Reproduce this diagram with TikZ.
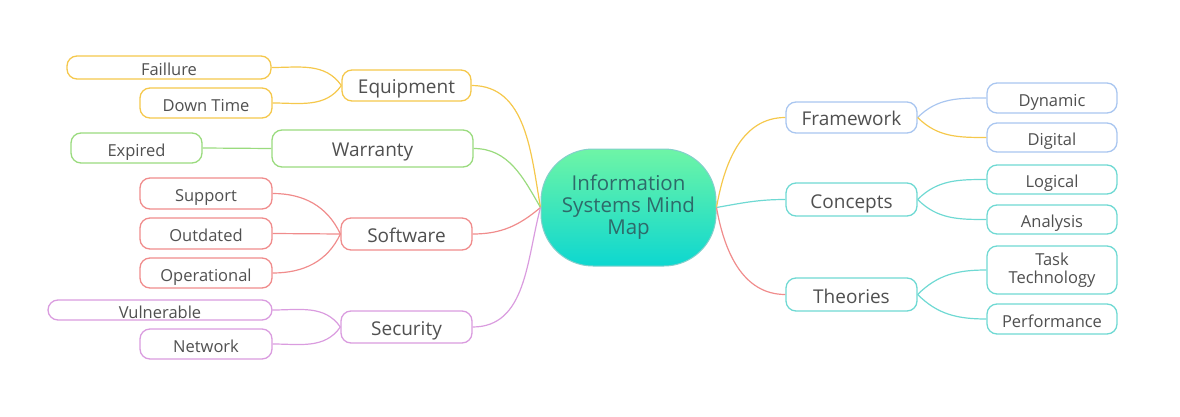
\documentclass[tikz,border=0pt]{standalone}
\usepackage{fontspec}
\setmainfont{Open Sans}
\definecolor{cyel}{HTML}{F5C84C}
\definecolor{cgrn}{HTML}{9ADB7E}
\definecolor{cred}{HTML}{F08C8C}
\definecolor{cpur}{HTML}{DA9CDF}
\definecolor{cblu}{HTML}{A9C6F0}
\definecolor{ctea}{HTML}{6FD9D3}
\definecolor{ctxt}{HTML}{505050}
\definecolor{gtop}{HTML}{6EF5A6}
\definecolor{gbot}{HTML}{0DD7D0}
\definecolor{ctr}{HTML}{2E6A6A}
\begin{document}
\begin{tikzpicture}[x=1pt,y=-1pt,
  box/.style={draw,line width=1.3pt,rounded corners=10pt,inner sep=0pt,fill=white,text=ctxt,align=center},
  mainbox/.style={box,font=\fontsize{19}{21}\selectfont,text height=17pt,text depth=0pt},
  leaf/.style={box,font=\fontsize{16.5}{18}\selectfont,text height=16.5pt,text depth=0pt},
  tleaf/.style={box,font=\fontsize{16.5}{18}\selectfont},
  ln/.style={line width=1.2pt}]
\useasboundingbox (0,0) rectangle (1180,417);
% center
\node[draw=ctea!90!black!80,line width=1pt,rounded corners=52pt,top color=gtop,bottom color=gbot,minimum width=175pt,minimum height=117pt,inner sep=0pt,text=ctr,align=center,font=\fontsize{20.5}{22}\selectfont] (c) at (628.5,207.5) {Information\\Systems Mind\\Map};
% left main
\node[mainbox,draw=cyel,minimum width=129pt,minimum height=31pt] (equip) at (406.5,85.5) {Equipment};
\node[mainbox,draw=cgrn,minimum width=201pt,minimum height=37pt] (warr) at (372.5,148.5) {Warranty};
\node[mainbox,draw=cred,minimum width=131pt,minimum height=32pt] (soft) at (406.5,234) {Software};
\node[mainbox,draw=cpur,minimum width=131pt,minimum height=32pt] (sec) at (406.5,327) {Security};
% left leaves
\node[leaf,draw=cyel,minimum width=204pt,minimum height=23pt] (fail) at (169,67.5) {Faillure};
\node[leaf,draw=cyel,minimum width=132pt,minimum height=30pt] (down) at (206,103) {Down Time};
\node[leaf,draw=cgrn,minimum width=131pt,minimum height=30pt] (exp) at (136.5,148) {Expired};
\node[leaf,draw=cred,minimum width=132pt,minimum height=31pt] (supp) at (206,193.5) {Support};
\node[leaf,draw=cred,minimum width=132pt,minimum height=31pt] (outd) at (206,233.5) {Outdated};
\node[leaf,draw=cred,minimum width=132pt,minimum height=30pt] (oper) at (206,273) {Operational};
\node[leaf,draw=cpur,minimum width=224pt,minimum height=20pt] (vuln) at (160,310) {Vulnerable};
\node[leaf,draw=cpur,minimum width=132pt,minimum height=30pt] (netw) at (206,344) {Network};
% right main
\node[mainbox,draw=cblu,minimum width=131pt,minimum height=31pt] (frame) at (851.5,117.5) {Framework};
\node[mainbox,draw=ctea,minimum width=131pt,minimum height=33pt] (conc) at (851.5,199.5) {Concepts};
\node[mainbox,draw=ctea,minimum width=131pt,minimum height=33pt] (theo) at (851.5,294.5) {Theories};
% right leaves
\node[leaf,draw=cblu,minimum width=130pt,minimum height=30pt] (dyn) at (1052,98) {Dynamic};
\node[leaf,draw=cblu,minimum width=130pt,minimum height=29pt] (dig) at (1052,137.5) {Digital};
\node[leaf,draw=ctea,minimum width=130pt,minimum height=29pt] (logi) at (1052,179.5) {Logical};
\node[leaf,draw=ctea,minimum width=130pt,minimum height=29pt] (anal) at (1052,219.5) {Analysis};
\node[tleaf,draw=ctea,minimum width=130pt,minimum height=48pt] (task) at (1052,270) {Task\\Technology};
\node[leaf,draw=ctea,minimum width=130pt,minimum height=30pt] (perf) at (1052,319) {Performance};
% connectors center-left
\draw[ln,cyel] (c.west) to[out=100,in=0] (equip.east);
\draw[ln,cgrn] (c.west) to[out=120,in=0] (warr.east);
\draw[ln,cred] (c.west) to[out=220,in=0] (soft.east);
\draw[ln,cpur] (c.west) to[out=255,in=0] (sec.east);
% connectors center-right
\draw[ln,cyel] (c.east) to[out=80,in=180] (frame.west);
\draw[ln,ctea] (c.east) to[out=10,in=180] (conc.west);
\draw[ln,cred] (c.east) to[out=-80,in=180] (theo.west);
% left leaves
\draw[ln,cyel] (equip.west) to[out=125,in=0] (fail.east);
\draw[ln,cyel] (equip.west) to[out=235,in=0] (down.east);
\draw[ln,cgrn] (warr.west) -- (exp.east);
\draw[ln,cred] (soft.west) to[out=115,in=0] (supp.east);
\draw[ln,cred] (soft.west) -- (outd.east);
\draw[ln,cred] (soft.west) to[out=245,in=0] (oper.east);
\draw[ln,cpur] (sec.west) to[out=125,in=0] (vuln.east);
\draw[ln,cpur] (sec.west) to[out=235,in=0] (netw.east);
% right leaves
\draw[ln,cblu] (frame.east) to[out=45,in=180] (dyn.west);
\draw[ln,cyel] (frame.east) to[out=-45,in=180] (dig.west);
\draw[ln,ctea] (conc.east) to[out=45,in=180] (logi.west);
\draw[ln,ctea] (conc.east) to[out=-45,in=180] (anal.west);
\draw[ln,ctea] (theo.east) to[out=45,in=180] (task.west);
\draw[ln,ctea] (theo.east) to[out=-45,in=180] (perf.west);
\end{tikzpicture}
\end{document}
